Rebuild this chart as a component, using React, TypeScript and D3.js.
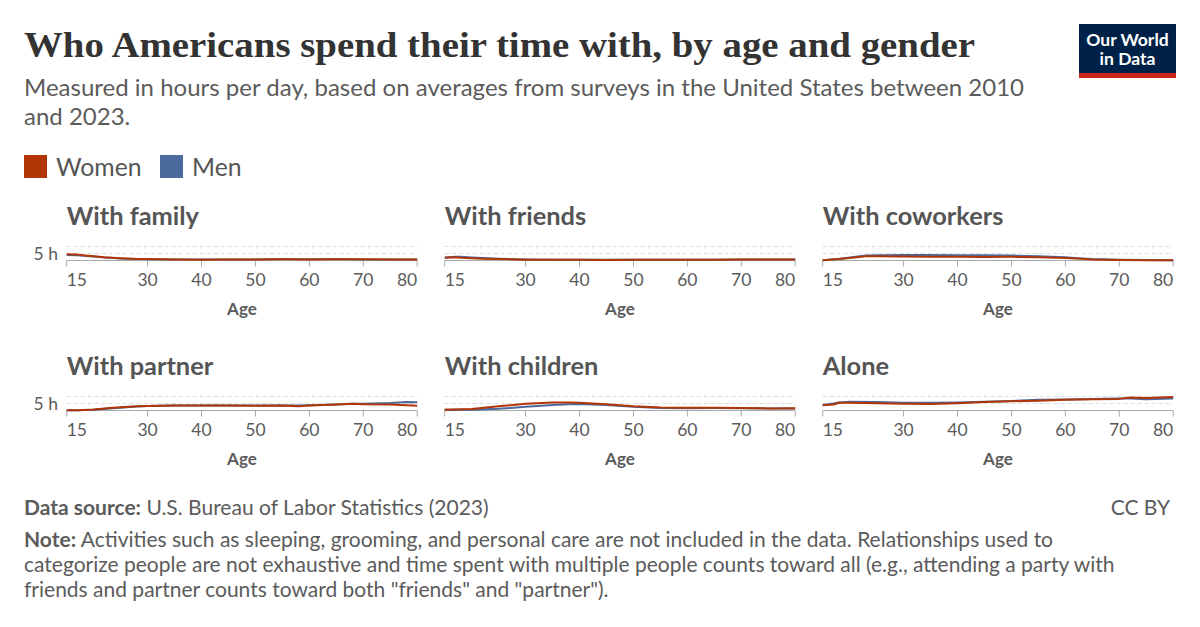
import React from "react";
import * as d3 from "d3";

const panelTitles = ["With family", "With friends", "With coworkers", "With partner", "With children", "Alone"];
const xTicks = [15, 30, 40, 50, 60, 70, 80];

const familyAges = [15, 17, 18, 20, 22, 25, 28, 30, 35, 40, 45, 50, 55, 60, 65, 70, 75, 80];
const familyWomen = [4.4, 4.2, 3.8, 3.0, 2.3, 1.6, 1.1, 1.0, 0.7, 0.6, 0.8, 0.8, 0.9, 0.8, 0.9, 0.9, 0.7, 0.8];
const familyMen = [4.0, 3.8, 3.4, 2.8, 2.1, 1.4, 1.0, 0.9, 0.7, 0.7, 0.8, 0.8, 1.0, 0.9, 1.0, 0.8, 0.8, 0.8];

const friendsAges = [15, 17, 18, 20, 22, 25, 30, 35, 40, 45, 50, 55, 60, 65, 70, 75, 80];
const friendsWomen = [2.0, 2.3, 2.0, 1.6, 1.3, 1.0, 0.6, 0.5, 0.5, 0.4, 0.5, 0.5, 0.6, 0.6, 0.7, 0.7, 0.7];
const friendsMen = [2.2, 2.6, 2.6, 2.2, 1.8, 1.3, 0.8, 0.6, 0.5, 0.5, 0.5, 0.5, 0.6, 0.6, 0.7, 0.7, 0.7];

const coworkersAges = [15, 18, 20, 23, 25, 30, 35, 40, 45, 50, 55, 60, 63, 65, 70, 75, 80];
const coworkersWomen = [0.2, 1.0, 1.8, 3.0, 3.0, 2.8, 2.6, 2.6, 2.5, 2.6, 2.4, 1.8, 1.2, 0.8, 0.4, 0.2, 0.1];
const coworkersMen = [0.2, 1.0, 2.2, 3.5, 3.8, 4.0, 3.9, 3.8, 3.7, 3.5, 3.1, 2.4, 1.5, 1.0, 0.5, 0.3, 0.2];

const partnerAges = [15, 17, 20, 23, 25, 28, 30, 35, 40, 45, 50, 55, 58, 60, 65, 68, 70, 75, 78, 80];
const partnerWomen = [0.1, 0.2, 0.8, 1.8, 2.3, 3.0, 3.2, 3.5, 3.5, 3.5, 3.4, 3.5, 3.0, 3.6, 4.2, 4.8, 4.5, 4.2, 3.8, 3.4];
const partnerMen = [0.1, 0.1, 0.6, 1.5, 2.0, 2.8, 3.2, 3.5, 3.5, 3.5, 3.5, 3.6, 3.5, 3.8, 4.3, 4.8, 4.9, 5.3, 6.0, 5.9];

const childrenAges = [15, 20, 25, 30, 35, 38, 40, 45, 50, 55, 60, 65, 70, 75, 80];
const childrenWomen = [0.6, 1.0, 3.0, 4.8, 5.8, 5.8, 5.5, 4.5, 3.0, 2.2, 2.0, 1.9, 1.7, 1.5, 1.6];
const childrenMen = [0.5, 0.5, 1.2, 2.6, 4.0, 4.4, 4.6, 4.0, 2.6, 1.8, 1.6, 1.7, 1.6, 1.5, 1.5];

const aloneAges = [15, 17, 18, 20, 25, 30, 35, 40, 45, 50, 55, 60, 65, 70, 72, 75, 80];
const aloneWomen = [3.8, 4.3, 5.5, 5.5, 5.2, 4.8, 4.7, 5.2, 6.0, 6.6, 7.0, 7.7, 8.0, 8.3, 9.3, 9.0, 9.7];
const aloneMen = [4.0, 5.0, 5.8, 6.2, 6.0, 5.5, 5.5, 5.7, 6.3, 6.8, 7.6, 7.8, 8.3, 8.5, 8.6, 8.0, 8.5];

const panelAges = [familyAges, friendsAges, coworkersAges, partnerAges, childrenAges, aloneAges];
const panelWomen = [familyWomen, friendsWomen, coworkersWomen, partnerWomen, childrenWomen, aloneWomen];
const panelMen = [familyMen, friendsMen, coworkersMen, partnerMen, childrenMen, aloneMen];

const WOMEN = "#B13507";
const MEN = "#4C6A9C";
const FONT = "Lato, 'Noto Sans', sans-serif";
const TEXT = "#5b5b5b";

const colX = [66.7, 444.7, 822.7];
const panelW = 350.5;
const rowY = [260.5, 410.5];

export default function App() {
  return (
    <svg width={1200} height={627} style={{ position: "absolute", left: 0, top: 0, background: "#fff" }} fontFamily={FONT}>
      <rect width={1200} height={627} fill="#fff" />
      <text x={24} y={57} fontFamily="'Liberation Serif', 'DejaVu Serif', serif" fontWeight={700} fontSize={36} fill="#333" textLength={951} lengthAdjust="spacingAndGlyphs">
        Who Americans spend their time with, by age and gender
      </text>
      <text x={24} y={96} fontSize={24} fill={TEXT} textLength={1000} lengthAdjust="spacing">
        Measured in hours per day, based on averages from surveys in the United States between 2010
      </text>
      <text x={24} y={124.5} fontSize={24} fill={TEXT}>and 2023.</text>

      {/* logo */}
      <rect x={1079} y={24} width={97} height={54} fill="#002147" />
      <rect x={1079} y={73} width={97} height={5} fill="#CE261E" />
      <text x={1127.5} y={46} textAnchor="middle" fontSize={17.5} fontWeight={700} fill="#fff">Our World</text>
      <text x={1127.5} y={65} textAnchor="middle" fontSize={17.5} fontWeight={700} fill="#fff">in Data</text>

      {/* legend */}
      <rect x={24} y={155} width={23} height={23} fill={WOMEN} />
      <text x={56} y={175.5} fontSize={24.8} fill="#555">Women</text>
      <rect x={160} y={155} width={23} height={23} fill={MEN} />
      <text x={192} y={175.5} fontSize={24.8} fill="#555">Men</text>

      {panelTitles.map((title, i) => {
        const col = i % 3;
        const row = Math.floor(i / 3);
        const x0 = colX[col];
        const ay = rowY[row];
        const x = d3.scaleLinear().domain([15, 80]).range([x0, x0 + panelW]);
        const y = d3.scaleLinear().domain([0, 10]).range([ay, ay - 14]);
        const ages = panelAges[i];
        const line = d3
          .line<number>()
          .x((_, j) => x(ages[j]))
          .y((v) => y(v));
        return (
          <g key={title}>
            <text x={x0} y={ay - 35.5} fontSize={25.4} fontWeight={700} fill="#555">{title}</text>
            {[5, 10].map((g) => (
              <line key={g} x1={x0} x2={x0 + panelW} y1={y(g)} y2={y(g)} stroke="#ddd" strokeDasharray="4,3" />
            ))}
            {col === 0 && (
              <text x={58} y={y(5)} dy="0.36em" textAnchor="end" fontSize={17.5} fill={TEXT}>5 h</text>
            )}
            <line x1={x0} x2={x0 + panelW} y1={ay} y2={ay} stroke="#aaa" />
            {xTicks.map((t, k) => (
              <g key={t}>
                <line x1={x(t)} x2={x(t)} y1={ay} y2={ay + 6} stroke="#aaa" />
                <text
                  x={x(t)}
                  y={ay + 25.2}
                  fontSize={17.5}
                  fill={TEXT}
                  textAnchor={k === 0 ? "start" : k === xTicks.length - 1 ? "end" : "middle"}
                >
                  {t}
                </text>
              </g>
            ))}
            <text x={x0 + panelW / 2} y={ay + 54.5} textAnchor="middle" fontSize={17} fontWeight={700} fill={TEXT}>Age</text>
            <path d={line(panelMen[i]) || ""} fill="none" stroke={MEN} strokeWidth={2} strokeLinejoin="round" />
            <path d={line(panelWomen[i]) || ""} fill="none" stroke={WOMEN} strokeWidth={2} strokeLinejoin="round" />
          </g>
        );
      })}

      {/* footer */}
      <text x={24} y={515} fontSize={21} fill={TEXT}>
        <tspan fontWeight={700}>Data source:</tspan> U.S. Bureau of Labor Statistics (2023)
      </text>
      <text x={1170} y={515} fontSize={21} fill={TEXT} textAnchor="end">CC BY</text>
      <text x={24} y={547} fontSize={21} fill={TEXT}>
        <tspan fontWeight={700}>Note:</tspan> Activities such as sleeping, grooming, and personal care are not included in the data. Relationships used to
      </text>
      <text x={24} y={572} fontSize={21} fill={TEXT}>
        categorize people are not exhaustive and time spent with multiple people counts toward all (e.g., attending a party with
      </text>
      <text x={24} y={597} fontSize={21} fill={TEXT}>
        friends and partner counts toward both "friends" and "partner").
      </text>
    </svg>
  );
}
